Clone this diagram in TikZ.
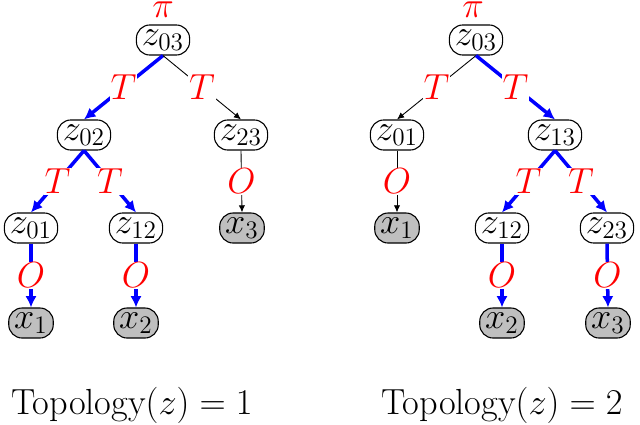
\documentclass[tikz,border=0pt]{standalone}
\usetikzlibrary{arrows.meta}
\begin{document}
\begin{tikzpicture}[x=0.476pt,y=-0.476pt,
  big/.style={font=\fontsize{17.28}{21}\selectfont},
  zn/.style={big, draw, rounded corners=6.4pt, line width=0.52pt, minimum height=14.3pt, inner xsep=2.6pt, inner ysep=0pt},
  xn/.style={zn, fill=gray!50},
  lab/.style={big, fill=white, text=red, inner sep=0.4pt},
  hot/.style={draw=blue, line width=1.67pt, -{Latex[length=5.4pt,width=5.4pt]}},
  cold/.style={draw=black, line width=0.42pt, -{Latex[length=3.4pt,width=3pt]}}
]
\useasboundingbox (0,0) rectangle (640,424);
% left tree
\node[big, text=red, inner sep=0pt] (piL) at (163,10) {$\pi$};
\node[zn] (Lz03) at (163,40) {$z_{03}$};
\node[zn] (Lz02) at (84,135) {$z_{02}$};
\node[zn] (Lz23) at (241,135) {$z_{23}$};
\node[zn] (Lz01) at (31,228) {$z_{01}$};
\node[zn] (Lz12) at (136,228) {$z_{12}$};
\node[xn] (Lx3) at (242,228) {$x_3$};
\node[xn] (Lx1) at (31,323) {$x_1$};
\node[xn] (Lx2) at (136,323) {$x_2$};
\draw[hot] (Lz03.south) -- node[lab] {$T$} (Lz02.north);
\draw[cold] (Lz03.south) -- node[lab] {$T$} (Lz23.north);
\draw[hot] (Lz02.south) -- node[lab] {$T$} (Lz01.north);
\draw[hot] (Lz02.south) -- node[lab] {$T$} (Lz12.north);
\draw[cold] (Lz23.south) -- node[lab] {$O$} (Lx3.north);
\draw[hot] (Lz01.south) -- node[lab] {$O$} (Lx1.north);
\draw[hot] (Lz12.south) -- node[lab] {$O$} (Lx2.north);
% right tree
\node[big, text=red, inner sep=0pt] (piR) at (473,10) {$\pi$};
\node[zn] (Rz03) at (476,40) {$z_{03}$};
\node[zn] (Rz01) at (397,135) {$z_{01}$};
\node[zn] (Rz13) at (555,135) {$z_{13}$};
\node[xn] (Rx1) at (397,228) {$x_1$};
\node[zn] (Rz12) at (502,228) {$z_{12}$};
\node[zn] (Rz23) at (607,228) {$z_{23}$};
\node[xn] (Rx2) at (502,323) {$x_2$};
\node[xn] (Rx3) at (608,323) {$x_3$};
\draw[cold] (Rz03.south) -- node[lab] {$T$} (Rz01.north);
\draw[hot] (Rz03.south) -- node[lab] {$T$} (Rz13.north);
\draw[cold] (Rz01.south) -- node[lab] {$O$} (Rx1.north);
\draw[hot] (Rz13.south) -- node[lab] {$T$} (Rz12.north);
\draw[hot] (Rz13.south) -- node[lab] {$T$} (Rz23.north);
\draw[hot] (Rz12.south) -- node[lab] {$O$} (Rx2.north);
\draw[hot] (Rz23.south) -- node[lab] {$O$} (Rx3.north);
% captions
\node[big] (capL) at (132,405) {Topology$(z) = 1$};
\node[big] (capR) at (502,405) {Topology$(z) = 2$};
\end{tikzpicture}
\end{document}
